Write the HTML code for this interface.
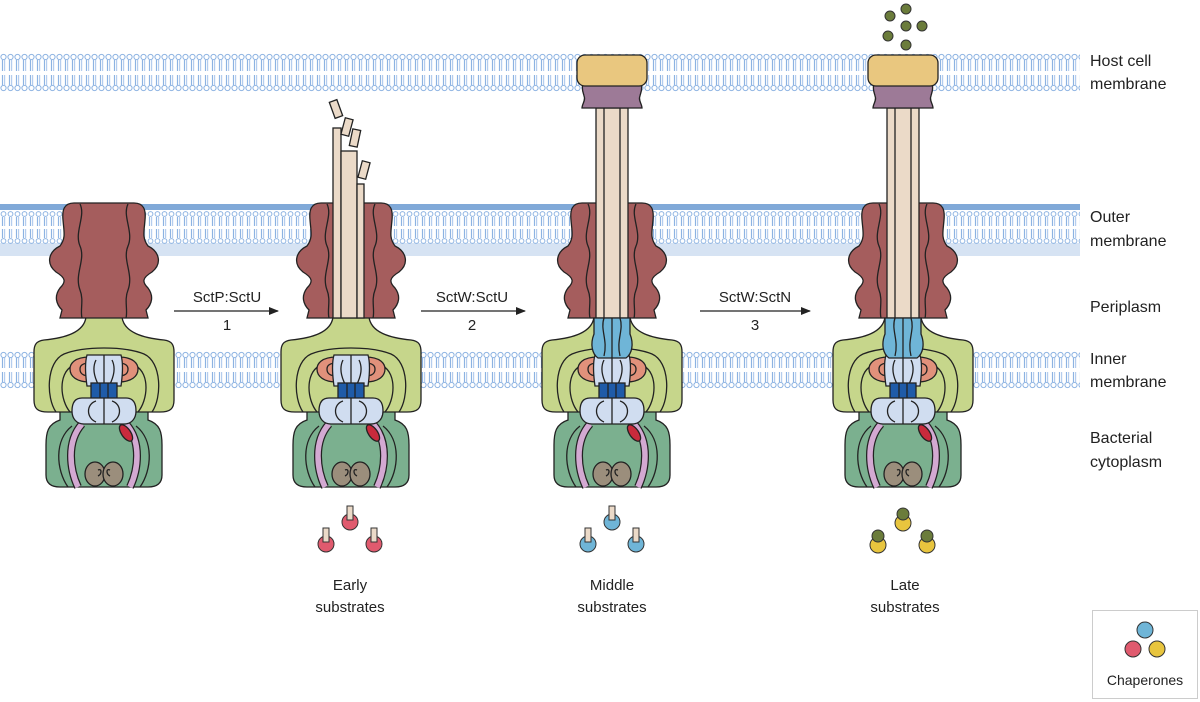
<!DOCTYPE html>
<html><head><meta charset="utf-8"><style>
html,body{margin:0;padding:0;background:#fff;}
svg{display:block;}
text{font-family:"Liberation Sans",sans-serif;fill:#222;}
</style></head><body>
<svg width="1200" height="702" viewBox="0 0 1200 702" xmlns="http://www.w3.org/2000/svg">
<defs>
 <pattern id="lipA" x="0" y="0" width="7" height="702" patternUnits="userSpaceOnUse">
  <circle cx="3.5" cy="57" r="2.6" fill="#fff" stroke="#8db3e2" stroke-width="1"/>
  <line x1="2.5" y1="60" x2="2.5" y2="71" stroke="#8db3e2" stroke-width="1.2"/>
  <line x1="4.6" y1="60" x2="4.6" y2="71" stroke="#b5cdee" stroke-width="1.2"/>
  <line x1="2.5" y1="75" x2="2.5" y2="85" stroke="#8db3e2" stroke-width="1.2"/>
  <line x1="4.6" y1="75" x2="4.6" y2="85" stroke="#b5cdee" stroke-width="1.2"/>
  <circle cx="3.5" cy="88" r="2.6" fill="#fff" stroke="#8db3e2" stroke-width="1"/>
 </pattern>
 <pattern id="lipO" x="0" y="0" width="7" height="702" patternUnits="userSpaceOnUse">
  <circle cx="3.5" cy="214" r="2.4" fill="#fff" stroke="#8db3e2" stroke-width="1"/>
  <line x1="2.5" y1="217" x2="2.5" y2="226" stroke="#8db3e2" stroke-width="1.2"/>
  <line x1="4.6" y1="217" x2="4.6" y2="226" stroke="#b5cdee" stroke-width="1.2"/>
  <line x1="2.5" y1="229" x2="2.5" y2="238" stroke="#8db3e2" stroke-width="1.2"/>
  <line x1="4.6" y1="229" x2="4.6" y2="238" stroke="#b5cdee" stroke-width="1.2"/>
  <circle cx="3.5" cy="241" r="2.4" fill="#fff" stroke="#8db3e2" stroke-width="1"/>
 </pattern>
 <pattern id="lipI" x="0" y="0" width="7" height="702" patternUnits="userSpaceOnUse">
  <circle cx="3.5" cy="355" r="2.6" fill="#fff" stroke="#8db3e2" stroke-width="1"/>
  <line x1="2.5" y1="358" x2="2.5" y2="368" stroke="#8db3e2" stroke-width="1.2"/>
  <line x1="4.6" y1="358" x2="4.6" y2="368" stroke="#b5cdee" stroke-width="1.2"/>
  <line x1="2.5" y1="372" x2="2.5" y2="382" stroke="#8db3e2" stroke-width="1.2"/>
  <line x1="4.6" y1="372" x2="4.6" y2="382" stroke="#b5cdee" stroke-width="1.2"/>
  <circle cx="3.5" cy="385" r="2.6" fill="#fff" stroke="#8db3e2" stroke-width="1"/>
 </pattern>
 <marker id="arr" markerWidth="10" markerHeight="8" refX="9" refY="4" orient="auto" markerUnits="userSpaceOnUse">
  <path d="M0 0 L10 4 L0 8 Z" fill="#222"/>
 </marker>

 <g id="base" stroke="#222" stroke-width="1.3">
  <path d="M-44 410 L44 410 L44 420 C56 424 58 432 58 445 L58 475 C58 484 52 487 44 487 L-44 487 C-52 487 -58 484 -58 475 L-58 445 C-58 432 -56 424 -44 420 Z" fill="#7bb08f"/>
  <path d="M-36 487 C-48 470 -50 440 -32 426" fill="none"/>
  <path d="M36 487 C48 470 50 440 32 426" fill="none"/>
  <path d="M-22 424 C-38 442 -34 470 -26 487" fill="none" stroke="#222" stroke-width="8"/>
  <path d="M-22 424 C-38 442 -34 470 -26 487" fill="none" stroke="#d3a9d2" stroke-width="5.5"/>
  <path d="M22 424 C38 442 34 470 26 487" fill="none" stroke="#222" stroke-width="8"/>
  <path d="M22 424 C38 442 34 470 26 487" fill="none" stroke="#d3a9d2" stroke-width="5.5"/>
  <ellipse cx="0" cy="0" rx="4.5" ry="9.5" fill="#c92a3c" transform="translate(22 433) rotate(-35)"/>
  <ellipse cx="-9" cy="474" rx="10" ry="12" fill="#9b8e7c"/>
  <ellipse cx="9" cy="474" rx="10" ry="12" fill="#9b8e7c"/>
  <path d="M-6 470 C-2 468 -2 474 -6 476 M6 470 C2 468 2 474 6 476" fill="none"/>
  <path d="M-18 317 L18 317 C20 333 40 338 60 340 C68 341 70 345 70 352 L70 400 C70 409 66 412 56 412 L-56 412 C-66 412 -70 409 -70 400 L-70 352 C-70 345 -68 341 -60 340 C-40 338 -20 333 -18 317 Z" fill="#c6d68b"/>
  <path d="M-48 412 C-58 398 -58 362 -40 354 C-20 346 20 346 40 354 C58 362 58 398 48 412" fill="none"/>
  <path d="M-34 412 C-44 400 -46 374 -32 366 M34 412 C44 400 46 374 32 366" fill="none"/>
  <path d="M-14 357 C-30 357 -34 364 -34 369 C-34 376 -28 382 -14 382 Z" fill="#e1917b"/>
  <path d="M14 357 C30 357 34 364 34 369 C34 376 28 382 14 382 Z" fill="#e1917b"/>
  <path d="M-14 363 C-22 363 -24 366 -24 369 C-24 373 -22 376 -14 376 M14 363 C22 363 24 366 24 369 C24 373 22 376 14 376" fill="none"/>
  <path d="M-17 355 L17 355 C19 362 19 372 17 386 L-17 386 C-19 372 -19 362 -17 355 Z" fill="#d0ddf0"/>
  <path d="M0 355 L0 386 M-8 360 C-12 368 -10 376 -6 384 M8 360 C12 368 10 376 6 384" fill="none"/>
  <rect x="-13" y="383" width="26" height="16" fill="#1f5ba8"/>
  <line x1="-4" y1="383" x2="-4" y2="399"/><line x1="4" y1="383" x2="4" y2="399"/>
  <path d="M-22 398 L22 398 C30 398 32 404 32 411 C32 418 28 424 20 424 L-20 424 C-28 424 -32 418 -32 411 C-32 404 -30 398 -22 398 Z" fill="#d0ddf0"/>
  <path d="M0 398 L0 424 M-8 401 C-18 404 -18 418 -8 422 M8 401 C18 404 18 418 8 422" fill="none"/>
  <path d="M30 203 C40 203 42 210 41 220 C40 232 38 238 44 246 C56 252 58 264 48 272 C38 278 38 282 44 288 C50 296 48 304 42 310 L44 318 L-44 318 L-42 310 C-48 304 -50 296 -44 288 C-38 282 -38 278 -48 272 C-58 264 -56 252 -44 246 C-38 238 -40 232 -41 220 C-42 210 -40 203 -30 203 Z" fill="#a55d5d"/>
  <path d="M-24 204 C-18 216 -30 232 -24 246 C-18 260 -30 274 -24 290 C-20 300 -24 310 -22 318" fill="none"/>
  <path d="M24 204 C18 216 30 232 24 246 C18 260 30 274 24 290 C20 300 24 310 22 318" fill="none"/>
 </g>
 <g id="tipblue" stroke="#222" stroke-width="1.3">
  <path d="M-18 318 L18 318 L18 334 C22 344 20 354 14 358 L-14 358 C-20 354 -22 344 -18 334 Z" fill="#6fb5d7"/>
  <path d="M0 318 L0 358 M-8 318 C-12 330 -4 340 -8 356 M8 318 C12 330 4 340 8 356" fill="none"/>
 </g>
 <g id="needle" stroke="#222" stroke-width="1.3">
  <rect x="-16" y="108" width="32" height="210" fill="#ebdac8"/>
  <line x1="-8" y1="108" x2="-8" y2="318"/><line x1="8" y1="108" x2="8" y2="318"/>
  <path d="M-29 84 L29 84 C31 90 28 94 28 96 C26 100 30 104 30 108 L-30 108 C-30 104 -26 100 -28 96 C-28 94 -31 90 -29 84 Z" fill="#9d7a97"/>
  <rect x="-35" y="55" width="70" height="31" rx="8" fill="#e9c77f"/>
 </g>
</defs>

<rect x="0" y="52" width="1080" height="40" fill="url(#lipA)"/>
<rect x="0" y="204" width="1080" height="6" fill="#80a9d8"/>
<rect x="0" y="243" width="1080" height="13" fill="#d6e3f3"/>
<rect x="0" y="210" width="1080" height="35" fill="url(#lipO)"/>
<rect x="0" y="351" width="1080" height="38" fill="url(#lipI)"/>

<use href="#base" transform="translate(104 0)"/>

<use href="#base" transform="translate(351 0)"/>
<g transform="translate(351 0)" stroke="#222" stroke-width="1.3" fill="#ebdac8">
  <rect x="-18" y="128" width="8" height="190"/>
  <rect x="-10" y="151" width="16" height="167"/>
  <rect x="6" y="184" width="7" height="134"/>
  <rect x="-4" y="-8.5" width="8" height="17" transform="translate(-15 109) rotate(-20)"/>
  <rect x="-4" y="-8.5" width="8" height="17" transform="translate(-4 127) rotate(15)"/>
  <rect x="-4" y="-8.5" width="8" height="17" transform="translate(4 138) rotate(12)"/>
  <rect x="-4" y="-8.5" width="8" height="17" transform="translate(13 170) rotate(15)"/>
</g>

<use href="#base" transform="translate(612 0)"/>
<use href="#needle" transform="translate(612 0)"/>
<use href="#tipblue" transform="translate(612 0)"/>

<use href="#base" transform="translate(903 0)"/>
<use href="#needle" transform="translate(903 0)"/>
<use href="#tipblue" transform="translate(903 0)"/>
<g fill="#6b7c3b" stroke="#333" stroke-width="1">
 <circle cx="906" cy="9" r="5"/><circle cx="890" cy="16" r="5"/><circle cx="906" cy="26" r="5"/>
 <circle cx="922" cy="26" r="5"/><circle cx="888" cy="36" r="5"/><circle cx="906" cy="45" r="5"/>
</g>

<g font-size="15" text-anchor="middle">
 <text x="227" y="302">SctP:SctU</text>
 <line x1="174" y1="311" x2="278" y2="311" stroke="#222" stroke-width="1.2" marker-end="url(#arr)"/>
 <text x="227" y="330">1</text>
 <text x="472" y="302">SctW:SctU</text>
 <line x1="421" y1="311" x2="525" y2="311" stroke="#222" stroke-width="1.2" marker-end="url(#arr)"/>
 <text x="472" y="330">2</text>
 <text x="755" y="302">SctW:SctN</text>
 <line x1="700" y1="311" x2="810" y2="311" stroke="#222" stroke-width="1.2" marker-end="url(#arr)"/>
 <text x="755" y="330">3</text>
</g>

<g stroke="#333" stroke-width="1">
 <circle cx="326" cy="544" r="8" fill="#e05a6e"/><rect x="323" y="528" width="6" height="14" fill="#ebdac8"/>
 <circle cx="350" cy="522" r="8" fill="#e05a6e"/><rect x="347" y="506" width="6" height="14" fill="#ebdac8"/>
 <circle cx="374" cy="544" r="8" fill="#e05a6e"/><rect x="371" y="528" width="6" height="14" fill="#ebdac8"/>
 <circle cx="588" cy="544" r="8" fill="#6fb5d7"/><rect x="585" y="528" width="6" height="14" fill="#ebdac8"/>
 <circle cx="612" cy="522" r="8" fill="#6fb5d7"/><rect x="609" y="506" width="6" height="14" fill="#ebdac8"/>
 <circle cx="636" cy="544" r="8" fill="#6fb5d7"/><rect x="633" y="528" width="6" height="14" fill="#ebdac8"/>
 <circle cx="878" cy="545" r="8" fill="#e8c53e"/><circle cx="878" cy="536" r="6" fill="#6b7c3b"/>
 <circle cx="903" cy="523" r="8" fill="#e8c53e"/><circle cx="903" cy="514" r="6" fill="#6b7c3b"/>
 <circle cx="927" cy="545" r="8" fill="#e8c53e"/><circle cx="927" cy="536" r="6" fill="#6b7c3b"/>
</g>
<g font-size="15" text-anchor="middle">
 <text x="350" y="590">Early</text><text x="350" y="612">substrates</text>
 <text x="612" y="590">Middle</text><text x="612" y="612">substrates</text>
 <text x="905" y="590">Late</text><text x="905" y="612">substrates</text>
</g>

<g font-size="16">
 <text x="1090" y="66">Host cell</text><text x="1090" y="89">membrane</text>
 <text x="1090" y="222">Outer</text><text x="1090" y="246">membrane</text>
 <text x="1090" y="312">Periplasm</text>
 <text x="1090" y="364">Inner</text><text x="1090" y="387">membrane</text>
 <text x="1090" y="443">Bacterial</text><text x="1090" y="467">cytoplasm</text>
</g>

<rect x="1092.5" y="610.5" width="105" height="88" fill="#fff" stroke="#ccc"/>
<g stroke="#333" stroke-width="1">
 <circle cx="1145" cy="630" r="8" fill="#6fb5d7"/>
 <circle cx="1133" cy="649" r="8" fill="#e05a6e"/>
 <circle cx="1157" cy="649" r="8" fill="#e8c53e"/>
</g>
<text x="1145" y="685" font-size="14" text-anchor="middle">Chaperones</text>
</svg>
</body></html>
